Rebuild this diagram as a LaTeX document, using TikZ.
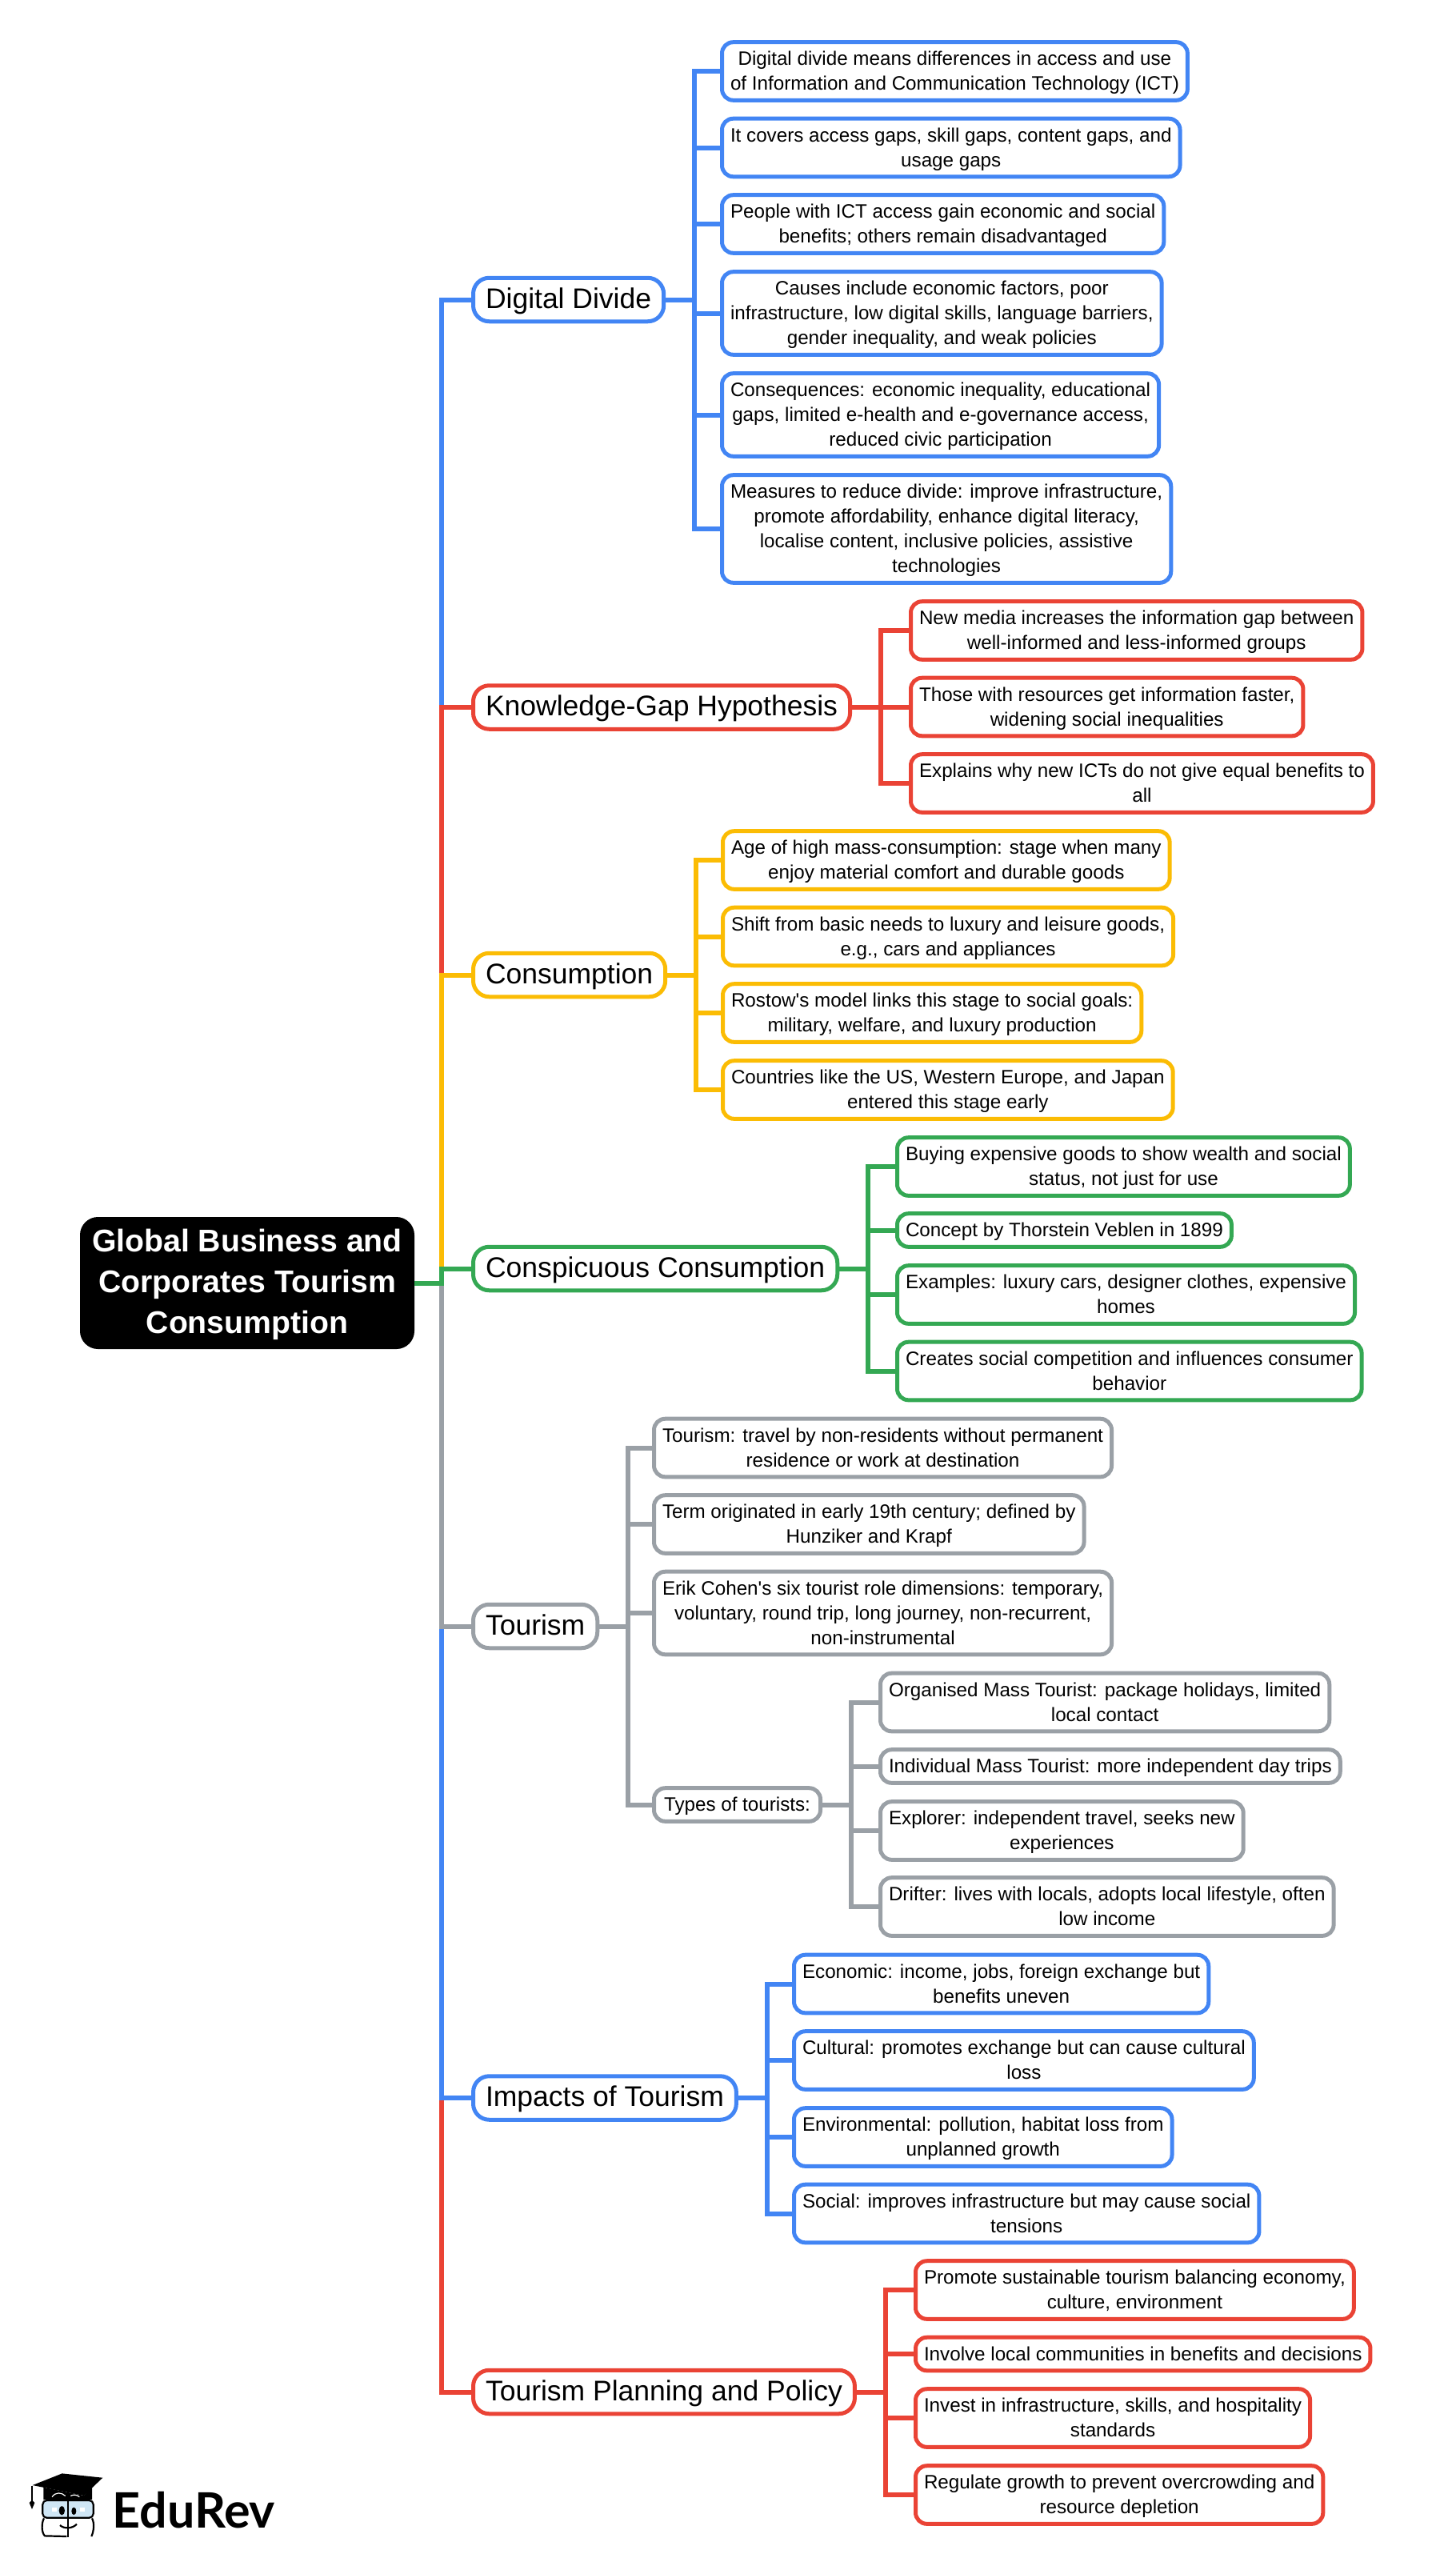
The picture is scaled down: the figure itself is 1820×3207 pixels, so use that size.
\documentclass[tikz,border=0pt]{standalone}
\usepackage{fontspec}
\setmainfont{Liberation Sans}
\newfontfamily\logofont{Lato}
\usepackage{xcolor}
\definecolor{mapblue}{HTML}{4285F4}
\definecolor{mapred}{HTML}{EA4335}
\definecolor{mapyellow}{HTML}{FBBC04}
\definecolor{mapgreen}{HTML}{34A853}
\definecolor{mapgray}{HTML}{9AA0A6}
\definecolor{logoglass}{HTML}{CFE6F5}
\newcommand{\leafstrut}{\rule[-3.65pt]{0pt}{15.5pt}}
\newcommand{\lines}[1]{\leafstrut #1\leafstrut}
\tikzset{
    % Boxes of the map
    rootbox/.style={
        rectangle, draw=black, fill=black, text=white, line width=0.5pt,
        minimum width=208.5pt, minimum height=82pt, rounded corners=11pt,
        align=center, anchor=west, inner sep=0pt,
        font=\fontsize{19.6}{25.5}\selectfont\bfseries
    },
    branch/.style={
        rectangle, draw=#1, fill=white, line width=2.5pt,
        minimum height=27.25pt, rounded corners=10pt,
        inner xsep=7.75pt, inner ysep=0pt, anchor=west,
        text height=12.75pt, text depth=2.25pt,
        font=\fontsize{17.75}{21}\selectfont
    },
    leaf/.style={
        rectangle, draw=#1, fill=white, line width=2.5pt,
        rounded corners=7pt, align=center, anchor=west, xshift=-1pt,
        inner xsep=5.25pt, inner ysep=2.65pt,
        font=\fontsize{12.1}{15.5}\selectfont
    },
    % Square elbow: out of the parent, along the bar, into the child
    elbow/.style={
        line width=3pt,
        to path={-- ++(#1,0) |- (\tikztotarget)}
    },
    elbow/.default=36
}
\begin{document}
\begin{tikzpicture}[x=0.5pt,y=-0.5pt]
\useasboundingbox (0,0) rectangle (1820,3207);

% Root
\node[rootbox] (root) at (100,1603.5) {\rule{0pt}{16.5pt}Global Business and\\Corporates Tourism\\Consumption};

% Main branches
\node[branch=mapblue] (divide) at (589,374.5) {Digital Divide};
\node[branch=mapred] (gap) at (589,884) {Knowledge-Gap Hypothesis};
\node[branch=mapyellow] (consumption) at (589,1218.5) {Consumption};
\node[branch=mapgreen] (conspicuous) at (589,1585.5) {Conspicuous Consumption};
\node[branch=mapgray, minimum width=75pt] (tourism) at (589,2032.5) {Tourism};
\node[branch=mapblue] (impacts) at (589,2622) {Impacts of Tourism};
\node[branch=mapred] (planning) at (589,2989.5) {Tourism Planning and Policy};

% Digital Divide
\node[leaf=mapblue] (divide1) at (902,89) {\lines{Digital divide means differences in access and use\\of Information and Communication Technology (ICT)}};
\node[leaf=mapblue] (divide2) at (902,184.5) {\lines{It covers access gaps, skill gaps, content gaps, and\\usage gaps}};
\node[leaf=mapblue] (divide3) at (902,280) {\lines{People with ICT access gain economic and social\\benefits; others remain disadvantaged}};
\node[leaf=mapblue] (divide4) at (902,391.5) {\lines{Causes include economic factors, poor\\infrastructure, low digital skills, language barriers,\\gender inequality, and weak policies}};
\node[leaf=mapblue] (divide5) at (902,518.5) {\lines{Consequences: economic inequality, educational\\gaps, limited e-health and e-governance access,\\reduced civic participation}};
\node[leaf=mapblue] (divide6) at (902,661) {\lines{Measures to reduce divide: improve infrastructure,\\promote affordability, enhance digital literacy,\\localise content, inclusive policies, assistive\\technologies}};

% Knowledge-Gap Hypothesis
\node[leaf=mapred] (gap1) at (1138,788) {\lines{New media increases the information gap between\\well-informed and less-informed groups}};
\node[leaf=mapred] (gap2) at (1138,883.5) {\lines{Those with resources get information faster,\\widening social inequalities}};
\node[leaf=mapred] (gap3) at (1138,979) {\lines{Explains why new ICTs do not give equal benefits to\\all}};

% Consumption
\node[leaf=mapyellow] (consumption1) at (903,1075) {\lines{Age of high mass-consumption: stage when many\\enjoy material comfort and durable goods}};
\node[leaf=mapyellow] (consumption2) at (903,1170.5) {\lines{Shift from basic needs to luxury and leisure goods,\\e.g., cars and appliances}};
\node[leaf=mapyellow] (consumption3) at (903,1266) {\lines{Rostow\textquotesingle s model links this stage to social goals:\\military, welfare, and luxury production}};
\node[leaf=mapyellow] (consumption4) at (903,1362) {\lines{Countries like the US, Western Europe, and Japan\\entered this stage early}};

% Conspicuous Consumption
\node[leaf=mapgreen] (conspicuous1) at (1121,1458) {\lines{Buying expensive goods to show wealth and social\\status, not just for use}};
\node[leaf=mapgreen] (conspicuous2) at (1121,1537.5) {\lines{Concept by Thorstein Veblen in 1899}};
\node[leaf=mapgreen] (conspicuous3) at (1121,1618) {\lines{Examples: luxury cars, designer clothes, expensive\\homes}};
\node[leaf=mapgreen] (conspicuous4) at (1121,1713.5) {\lines{Creates social competition and influences consumer\\behavior}};

% Tourism
\node[leaf=mapgray] (tourism1) at (817,1809.5) {\lines{Tourism: travel by non-residents without permanent\\residence or work at destination}};
\node[leaf=mapgray] (tourism2) at (817,1905) {\lines{Term originated in early 19th century; defined by\\Hunziker and Krapf}};
\node[leaf=mapgray] (tourism3) at (817,2016) {\lines{Erik Cohen\textquotesingle s six tourist role dimensions: temporary,\\voluntary, round trip, long journey, non-recurrent,\\non-instrumental}};
\node[leaf=mapgray, minimum width=104pt] (types) at (817,2255.5) {\lines{Types of tourists:}};

% Types of tourists
\node[leaf=mapgray] (type1) at (1100,2127.5) {\lines{Organised Mass Tourist: package holidays, limited\\local contact}};
\node[leaf=mapgray] (type2) at (1100,2207.5) {\lines{Individual Mass Tourist: more independent day trips}};
\node[leaf=mapgray] (type3) at (1100,2288) {\lines{Explorer: independent travel, seeks new\\experiences}};
\node[leaf=mapgray] (type4) at (1100,2383) {\lines{Drifter: lives with locals, adopts local lifestyle, often\\low income}};

% Impacts of Tourism
\node[leaf=mapblue] (impacts1) at (992,2479.5) {\lines{Economic: income, jobs, foreign exchange but\\benefits uneven}};
\node[leaf=mapblue] (impacts2) at (992,2575) {\lines{Cultural: promotes exchange but can cause cultural\\loss}};
\node[leaf=mapblue] (impacts3) at (992,2671) {\lines{Environmental: pollution, habitat loss from\\unplanned growth}};
\node[leaf=mapblue] (impacts4) at (992,2766.5) {\lines{Social: improves infrastructure but may cause social\\tensions}};

% Tourism Planning and Policy
\node[leaf=mapred] (planning1) at (1144,2862) {\lines{Promote sustainable tourism balancing economy,\\culture, environment}};
\node[leaf=mapred] (planning2) at (1144,2942) {\lines{Involve local communities in benefits and decisions}};
\node[leaf=mapred] (planning3) at (1144,3022) {\lines{Invest in infrastructure, skills, and hospitality\\standards}};
\node[leaf=mapred] (planning4) at (1144,3118) {\lines{Regulate growth to prevent overcrowding and\\resource depletion}};

% Connectors
\draw[elbow=34, mapblue] (root.east) to (divide.west);
\draw[elbow=34, mapred] (root.east) to (gap.west);
\draw[elbow=34, mapyellow] (root.east) to (consumption.west);
\draw[elbow=34, mapred] (root.east) to (planning.west);
\draw[elbow=34, mapblue] (root.east) to (impacts.west);
\draw[elbow=34, mapgray] (root.east) to (tourism.west);
\draw[elbow=34, mapgreen] (root.east) to (conspicuous.west);

\foreach \k in {divide1,divide2,divide3,divide4,divide5,divide6}
    \draw[elbow, mapblue] (divide.east) to (\k.west);
\foreach \k in {gap1,gap2,gap3}
    \draw[elbow, mapred] (gap.east) to (\k.west);
\foreach \k in {consumption1,consumption2,consumption3,consumption4}
    \draw[elbow, mapyellow] (consumption.east) to (\k.west);
\foreach \k in {conspicuous1,conspicuous2,conspicuous3,conspicuous4}
    \draw[elbow, mapgreen] (conspicuous.east) to (\k.west);
\foreach \k in {tourism1,tourism2,tourism3,types}
    \draw[elbow, mapgray] (tourism.east) to (\k.west);
\foreach \k in {type1,type2,type3,type4}
    \draw[elbow, mapgray] (types.east) to (\k.west);
\foreach \k in {impacts1,impacts2,impacts3,impacts4}
    \draw[elbow, mapblue] (impacts.east) to (\k.west);
\foreach \k in {planning1,planning2,planning3,planning4}
    \draw[elbow, mapred] (planning.east) to (\k.west);

% Logo
\node[anchor=base west, inner sep=0pt, font=\fontsize{30.5}{30}\logofont\bfseries] (logotext) at (140,3159) {EduRev};
\begin{scope}[shift={(0,3050)},x=0.16667pt,y=-0.16667pt]
    \fill (163,176) -- (315,207) -- (345,170) -- (345,222) -- (163,222) -- cycle;
    \fill (122,168) -- (233,124) -- (385,140) -- (315,207) -- cycle;
    \draw[line width=0.7pt] (120,170) -- (120,230);
    \fill (110,234) -- (120,224) -- (130,234) -- (120,258) -- cycle;
    \draw[white, line width=0.6pt] (195,212) .. controls (210,192) and (230,195) .. (245,208);
    \draw[white, line width=0.6pt] (265,208) .. controls (275,202) and (290,204) .. (298,212);
    \draw[fill=logoglass, line width=1.1pt, rounded corners=2.5pt] (160,225) rectangle (350,290);
    \draw[line width=1.1pt] (255,225) -- (255,362);
    \draw[line width=1.1pt] (165,292) .. controls (155,310) and (155,345) .. (168,358) -- (250,360);
    \draw[line width=1.1pt] (345,292) .. controls (355,310) and (352,340) .. (343,360);
    \draw[line width=1.1pt] (225,318) .. controls (240,332) and (270,332) .. (288,314);
    \fill (232,263) ellipse [x radius=11, y radius=17];
    \fill (277,265) ellipse [x radius=9, y radius=14];
    \fill[white] (196,252) rectangle (213,268);
    \fill[white] (300,251) rectangle (317,266);
\end{scope}
\end{tikzpicture}
\end{document}
